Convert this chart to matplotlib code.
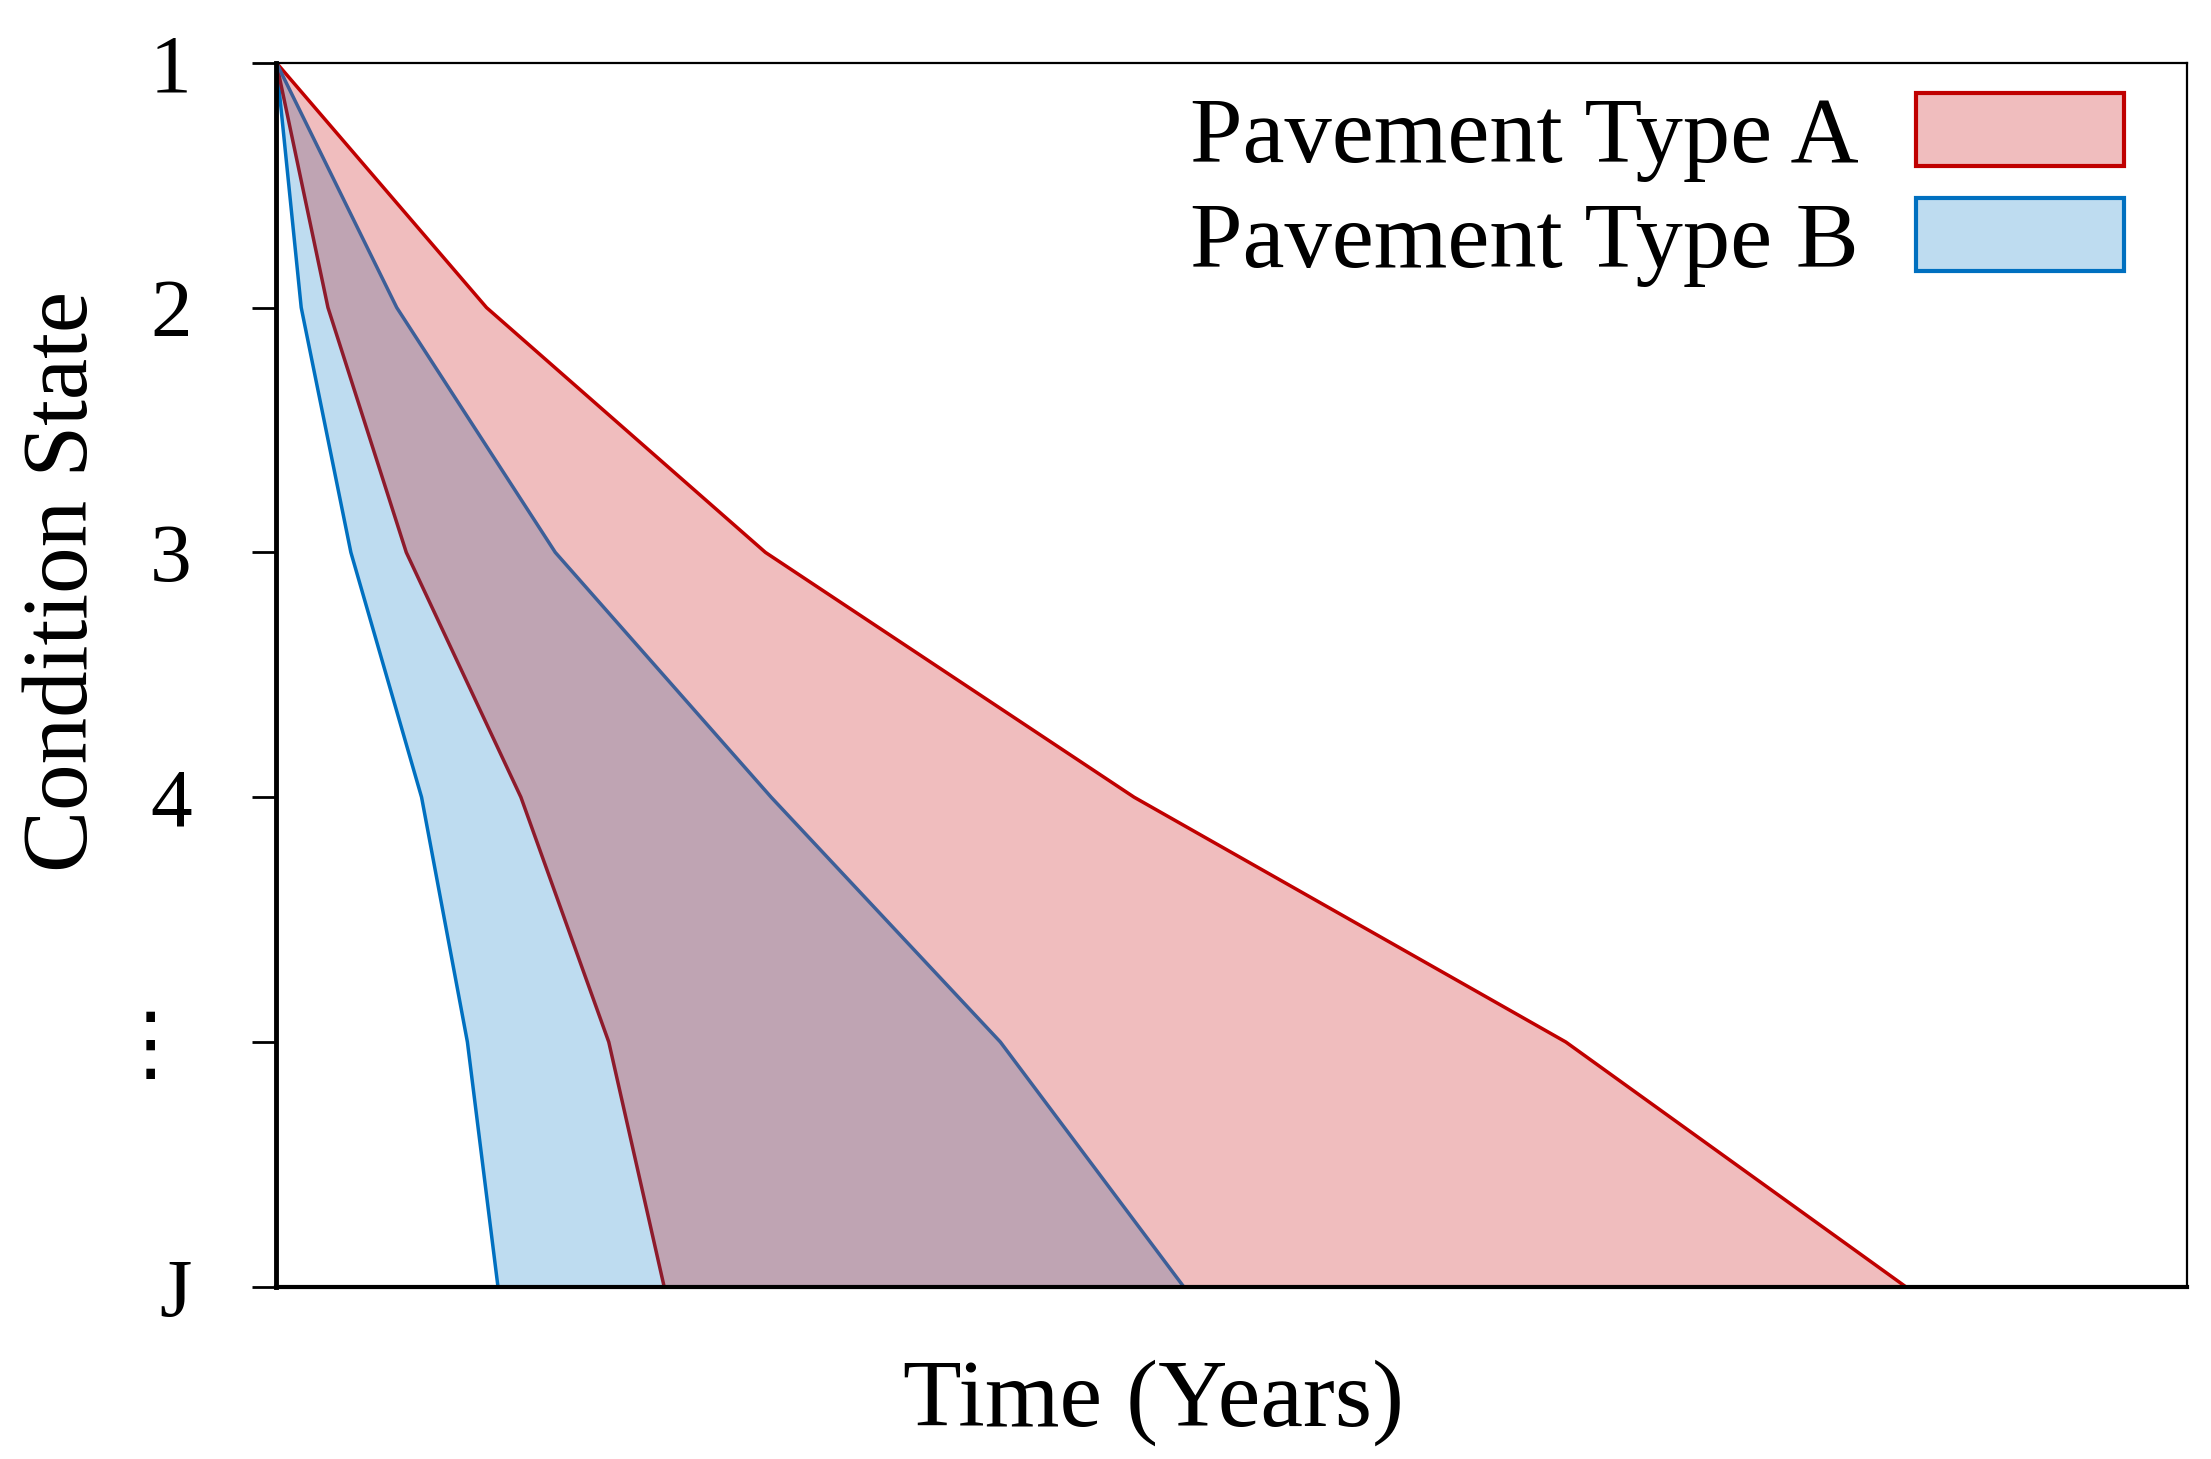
import matplotlib
matplotlib.use('Agg')
import numpy as np
import matplotlib.pyplot as plt
from matplotlib.patches import Patch

# condition states (1 .. J), plotted top to bottom
states = [1, 2, 3, 4, 5, 6]
state_labels = ['1', '2', '3', '4', '\u22ee', 'J']

# time at which each state is reached (arbitrary units, no ticks on x)
a_fast = [0, 2.7, 6.8, 12.8, 17.4, 20.3]
a_slow = [0, 11.0, 25.6, 44.9, 67.5, 85.3]
b_fast = [0, 1.3, 3.9, 7.6, 10.0, 11.6]
b_slow = [0, 6.3, 14.6, 25.9, 37.9, 47.5]

plt.rcParams['font.family'] = ['Liberation Serif', 'DejaVu Serif', 'DejaVu Sans']

fig = plt.figure(figsize=(22.11, 14.59), dpi=100)
ax = fig.add_axes([0.125, 0.118, 0.864, 0.839])

y = np.array(states)
ax.fill_betweenx(y, a_fast, a_slow, color='#f0bdbe', lw=0, zorder=1)
ax.fill_betweenx(y, b_fast, b_slow, color='#bedcf0', lw=0, zorder=2)
# overlap of the two bands
ax.fill_betweenx(y, a_fast, b_slow, color='#bfa4b3', lw=0, zorder=3)

ax.plot(a_slow, y, color='#c00000', lw=2.5, zorder=4)
ax.plot(b_fast, y, color='#0070c0', lw=2.5, zorder=4)
ax.plot(a_fast, y, color='#8e1b2c', lw=2.5, zorder=4)
ax.plot(b_slow, y, color='#3d5f98', lw=2.5, zorder=4)

ax.set_xlim(0, 100)
ax.set_ylim(6, 1)
ax.set_xticks([])
ax.set_yticks(states)
ax.set_yticklabels(state_labels)
ax.tick_params(axis='y', labelsize=60, length=17, width=2, pad=44)

for s in ['top', 'right']:
    ax.spines[s].set_linewidth(1.6)
ax.spines['left'].set_linewidth(3.5)
ax.spines['bottom'].set_linewidth(3.0)
for sp in ax.spines.values():
    sp.set_zorder(6)

ax.set_xlabel('Time (Years)', fontsize=69)
ax.set_ylabel('Condition State', fontsize=67)
ax.xaxis.set_label_coords(0.459, -0.095)
ax.yaxis.set_label_coords(-0.111, 0.576)
ax.xaxis.label.set_va('center')
ax.yaxis.label.set_va('center')

handles = [Patch(facecolor='#f0bdbe', edgecolor='#c00000', lw=3, label='Pavement Type A'),
           Patch(facecolor='#bedcf0', edgecolor='#0070c0', lw=3, label='Pavement Type B')]
ax.legend(handles=handles, loc='upper right', bbox_to_anchor=(0.967, 0.975),
          frameon=False, markerfirst=False, fontsize=68, handlelength=2.2,
          handleheight=0.8, handletextpad=0.6, labelspacing=0.17,
          borderpad=0, borderaxespad=0)

fig.savefig('out.png', dpi=100)
